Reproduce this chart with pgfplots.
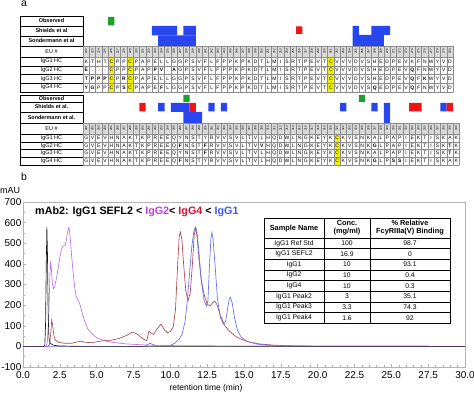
\documentclass[border=0pt]{standalone}
\usepackage{pgfplots}
\pgfplotsset{compat=1.18}
\usepackage{fontspec}
\setmainfont{Liberation Sans}
\definecolor{gblue}{RGB}{40,70,240}
\definecolor{gred}{RGB}{240,20,20}
\definecolor{ggreen}{RGB}{30,160,40}
\definecolor{yel}{RGB}{240,240,0}
\definecolor{gcol}{RGB}{140,140,140}
\definecolor{cblack}{RGB}{30,30,30}
\definecolor{cviolet}{RGB}{190,110,230}
\definecolor{cred}{RGB}{170,70,80}
\definecolor{cblue}{RGB}{100,110,235}
\definecolor{tviolet}{RGB}{190,60,230}
\definecolor{tred}{RGB}{210,20,50}
\definecolor{tblue}{RGB}{60,90,230}
\def\seq#1{\ifx\relax#1\else\makebox[6.27bp]{#1}\expandafter\seq\fi}
\newcommand\B[1]{\textbf{#1}}
\newcommand\fa{\fontsize{5}{6}\selectfont}
\newcommand\fl{\fontsize{5.5}{6}\selectfont}
\newcommand\fe{\fontsize{3}{3}\selectfont}
\newcommand\ft{\fontsize{6.8}{7.5}\selectfont}
\newcommand\fh{\fontsize{7.4}{8.2}\selectfont}
\newcommand\cell[5]{\addplot[fill=#1, draw=none, forget plot] coordinates {(#2,#4) (#3,#4) (#3,#5) (#2,#5) (#2,#4)};}
\newcommand\lab[3]{\draw[line width=0.4bp] (20,#1) rectangle (83,#2); \node[font=\fl, inner sep=0pt] at (51.5,{(#1+#2)/2}) {#3};}
\begin{document}
\begin{tikzpicture}
\useasboundingbox (0,0) rectangle (474bp,393bp);
% gray EU rows
\begin{scope}[x=1bp, y=-1bp, yshift=393bp]
\fill[gray!30] (83,46) rectangle (452.93,57);
\fill[gray!30] (83,123) rectangle (459.2,134);
\end{scope}
% coloured cells of panel a
\begin{axis}[at={(83bp,393bp)}, anchor=north west, x=6.27bp, y=1bp,
  xmin=0, xmax=60, ymin=0, ymax=170, y dir=reverse, hide axis, clip=false]
\cell{yel}{4}{5}{57}{92}
\cell{yel}{7}{8}{57}{92}
\cell{yel}{39}{40}{57}{92}
\cell{yel}{40}{41}{134}{165}
\cell{ggreen}{4}{5}{17}{25.5}
\cell{gblue}{11}{15}{26}{35.5}
\cell{gblue}{16}{18}{26}{35.5}
\cell{gblue}{12}{18}{35.5}{46}
\cell{gred}{34}{35}{26.5}{34}
\cell{gblue}{43}{44}{26}{35}
\cell{gblue}{46}{49}{26}{35}
\cell{gblue}{43}{48}{35}{46}
\cell{ggreen}{16}{17}{95}{102}
\cell{ggreen}{44}{45}{95}{102}
\cell{gred}{9}{10}{103}{111.5}
\cell{gblue}{12}{13}{103}{111.5}
\cell{gblue}{14}{17}{103}{112}
\cell{gred}{17}{18}{103}{112}
\cell{gblue}{16}{19}{112}{123}
\cell{gblue}{20}{21}{103}{111.5}
\cell{gblue}{22}{23}{103}{111.5}
\cell{gblue}{41}{42}{103}{111.5}
\cell{gblue}{46}{47}{103}{111.5}
\cell{gblue}{48}{49}{103}{123}
\cell{gred}{52}{54}{103}{111.5}
\cell{gblue}{57}{58}{103}{111.5}
\cell{gred}{58}{59}{103}{111.5}
\end{axis}
% chromatogram
\begin{axis}[at={(23bp,26bp)}, anchor=south west, scale only axis, width=442bp, height=165bp,
  xmin=0, xmax=30, ymin=-100, ymax=700,
  xtick={0,2.5,...,30}, ytick={-100,0,...,700},
  minor x tick num=4, minor y tick num=1,
  tick pos=left, tick align=inside,
  axis line style={gray!60}, tick style={gray!60, line width=0.4bp},
  major tick length=3bp, minor tick length=1.8bp,
  /pgf/number format/assume math mode=true,
  tick label style={font=\fontsize{10}{11}\selectfont, black},
  xticklabel style={yshift=-1.5bp, /pgf/number format/.cd, fixed, fixed zerofill, precision=1},
  yticklabel style={inner sep=1.5bp, /pgf/number format/.cd, fixed, 1000 sep={}},
  every axis plot/.append style={line width=0.65bp},
]
\addplot[cred] coordinates {(0,0) (1.7,0) (1.8,10) (1.88,60) (1.95,127) (2.02,100) (2.1,50) (2.2,30) (2.4,20) (2.8,15) (3.3,15) (3.7,22) (3.9,25) (4.2,20) (4.6,18) (5.0,22) (5.5,28) (6.0,30) (6.5,38) (7.0,52) (7.4,69) (7.7,62) (8.0,45) (8.3,30) (8.4,28) (8.55,74) (8.7,65) (8.85,58) (9.1,85) (9.37,108) (9.6,80) (9.8,66) (10.0,72) (10.2,95) (10.35,180) (10.5,400) (10.6,530) (10.68,555) (10.78,520) (10.9,400) (11.05,270) (11.2,220) (11.35,260) (11.5,400) (11.62,540) (11.72,575) (11.82,530) (11.95,420) (12.1,320) (12.3,250) (12.5,205) (12.7,195) (12.85,210) (13.0,220) (13.15,205) (13.4,150) (13.7,100) (14.0,75) (14.4,50) (14.8,35) (15.3,22) (16,12) (17,6) (18,3) (20,1) (30,0)};
\addplot[cblue] coordinates {(0,0) (8.2,0) (8.4,5) (8.6,15) (8.8,10) (9.0,3) (9.5,2) (10.0,5) (10.3,15) (10.6,35) (10.8,60) (11.0,120) (11.15,220) (11.3,350) (11.45,480) (11.6,560) (11.7,578) (11.8,560) (11.95,450) (12.1,320) (12.3,220) (12.45,195) (12.55,220) (12.65,380) (12.75,520) (12.82,552) (12.9,520) (13.05,380) (13.2,230) (13.4,140) (13.6,108) (13.75,120) (13.9,190) (14.0,230) (14.08,238) (14.2,210) (14.35,140) (14.55,80) (14.8,45) (15.2,25) (15.8,12) (16.5,6) (18,2) (20,1) (30,0)};
\addplot[cviolet] coordinates {(0,0) (1.55,0) (1.65,20) (1.75,150) (1.83,350) (1.88,415) (1.93,370) (2.0,300) (2.07,280) (2.15,290) (2.3,340) (2.45,410) (2.6,470) (2.7,485) (2.8,488) (2.87,492) (2.95,520) (3.05,565) (3.12,578) (3.2,530) (3.3,440) (3.4,360) (3.5,290) (3.6,245) (3.7,228) (3.8,215) (3.9,195) (4.0,165) (4.2,120) (4.4,85) (4.7,60) (5.0,42) (5.5,28) (6.0,20) (7.0,12) (8.0,8) (9,5) (10,4) (12,3) (15,2) (20,1) (30,0)};
\addplot[cblack] coordinates {(0,0) (1.40,0) (1.48,5) (1.53,100) (1.58,400) (1.62,578) (1.66,450) (1.71,150) (1.76,40) (1.85,15) (1.95,10) (2.1,5) (2.5,2) (4,0) (30,0)};
\end{axis}
\begin{scope}[x=1bp, y=-1bp, yshift=393bp]
% panel labels
\node[anchor=base west, font=\fontsize{10.5}{11}\selectfont, inner sep=0] at (21,7) {a};
\node[anchor=base west, font=\fontsize{10.5}{11}\selectfont, inner sep=0] at (21,181) {b};
\node[anchor=base west, font=\fontsize{9}{10}\selectfont, inner sep=0] at (0,194) {mAU};
\node[anchor=base, font=\fontsize{8.5}{9}\selectfont, inner sep=0] at (206,391) {retention time (min)};
% left label columns
\lab{16}{26}{\B{Observed}}
\lab{26}{36}{\B{Shields et al}}
\lab{36}{46}{\B{Sondermann et al}}
\lab{46}{57}{EU \#}
\lab{57}{66}{IgG1 HC}
\lab{66}{74.5}{IgG2 HC}
\lab{74.5}{83}{IgG3 HC}
\lab{83}{92}{IgG4 HC}
\lab{95}{102}{\B{Observed}}
\lab{102}{112}{\B{Shields et al.}}
\lab{112}{123}{\B{Sondermann et al.}}
\lab{123}{134}{EU \#}
\lab{134}{142}{IgG1 HC}
\lab{142}{149.5}{IgG2 HC}
\lab{149.5}{157}{IgG3 HC}
\lab{157}{165}{IgG4 HC}
% grids
\foreach \i in {0,...,59} \draw[gcol, line width=0.25bp] ({83+6.27*\i},46) -- ({83+6.27*\i},92);
\foreach \yy in {46,57,66,74.5,83,92} \draw[gcol, line width=0.3bp] (83,\yy) -- (452.93,\yy);
\foreach \i in {0,...,60} \draw[gcol, line width=0.25bp] ({83+6.27*\i},123) -- ({83+6.27*\i},165);
\foreach \yy in {123,134,142,149.5,157,165} \draw[gcol, line width=0.3bp] (83,\yy) -- (459.2,\yy);
% EU numbers
\foreach \n [count=\i from 0] in {222,...,280} \node[rotate=90, font=\fe, inner sep=0] at ({83+6.27*(\i+0.5)},51.5) {\n};
\foreach \n [count=\i from 0] in {281,...,340} \node[rotate=90, font=\fe, inner sep=0] at ({83+6.27*(\i+0.5)},128.5) {\n};
% sequences
\node[anchor=base west, inner sep=0, font=\fa] at (83,63.3) {\seq KTHTCPPCPAPELLGGPSVFLFPPKPKDTLMISRTPEVTCVVVDVSHEDPEVKFNWYVD\relax};
\node[anchor=base west, inner sep=0, font=\fa] at (83,72) {\seq {\B E}...CPPCPAP{\B P}{\B V}.{\B A}GPSVFLFPPKPKDTLMISRTPEVTCVVVDVSHEDPEV{\B Q}FNWYVD\relax};
\node[anchor=base west, inner sep=0, font=\fa] at (83,80.5) {\seq {\B T}{\B P}{\B P}{\B P}CP{\B R}CPAPELLGGPSVFLFPPKPKDTLMISRTPEVTCVVVDVSHEDPEV{\B Q}F{\B K}WYVD\relax};
\node[anchor=base west, inner sep=0, font=\fa] at (83,89.3) {\seq {\B Y}{\B G}PPCP{\B S}CPAPE{\B F}LGGPSVFLFPPKPKDTLMISRTPEVTCVVVDVS{\B Q}EDPEV{\B Q}FNWYVD\relax};
\node[anchor=base west, inner sep=0, font=\fa] at (83,139.8) {\seq GVEVHNAKTKPREEQYNSTYRVVSVLTVLHQDWLNGKEYKCKVSNKALPAPIEKTISKAK\relax};
\node[anchor=base west, inner sep=0, font=\fa] at (83,147.5) {\seq GVEVHNAKTKPREEQ{\B F}NST{\B F}RVVSVLTV{\B V}HQDWLNGKEYKCKVSNK{\B G}LPAPIEKTISK{\B T}K\relax};
\node[anchor=base west, inner sep=0, font=\fa] at (83,155) {\seq GVEVHNAKTKPREEQYNST{\B F}RVVSVLTVLHQDWLNGKEYKCKVSNKALPAPIEKTISK{\B T}K\relax};
\node[anchor=base west, inner sep=0, font=\fa] at (83,162.8) {\seq GVEVHNAKTKPREEQ{\B F}NSTYRVVSVLTVLHQDWLNGKEYKCKVSNK{\B G}LP{\B S}{\B S}IEKTISKAK\relax};
% title of panel b
\node[anchor=base west, inner sep=0, font=\bfseries\fontsize{10.8}{11}\selectfont] at (35,214.5) {mAb2: IgG1 SEFL2 < \textcolor{tviolet}{IgG2}< \textcolor{tred}{IgG4} < \textcolor{tblue}{IgG1}};
% table
\draw[line width=0.7bp, fill=white] (264,218) rectangle (450,323);
\draw[line width=0.45bp] (324,218) -- (324,323) (370,218) -- (370,323);
\draw[line width=0.6bp] (264,238) -- (450,238);
\foreach \yy in {248.625,259.25,269.875,280.5,291.125,301.75,312.375} \draw[line width=0.4bp] (264,\yy) -- (450,\yy);
\node[font=\bfseries\fh, align=center] at (294,228.5) {Sample Name};
\node[font=\bfseries\fh, align=center, inner sep=0] at (347,228) {Conc.\\(mg/ml)};
\node[font=\bfseries\fh, align=center, inner sep=0] at (410,228) {\% Relative\\FcyRIIIa(V) Binding};
\foreach \nm/\cc/\bb [count=\k from 0] in {IgG1 Ref Std/100/98.7, IgG1 SEFL2/16.9/0, IgG1/10/93.1, IgG2/10/0.4, IgG4/10/0.3, IgG1 Peak2/3/35.1, IgG1 Peak3/3.3/74.3, IgG1 Peak4/1.6/92} {
  \node[font=\ft, inner sep=0] at (294,{243.3+10.625*\k}) {\nm};
  \node[font=\ft, inner sep=0] at (347,{243.3+10.625*\k}) {\cc};
  \node[font=\ft, inner sep=0] at (410,{243.3+10.625*\k}) {\bb};
}
\end{scope}
\end{tikzpicture}
\end{document}
